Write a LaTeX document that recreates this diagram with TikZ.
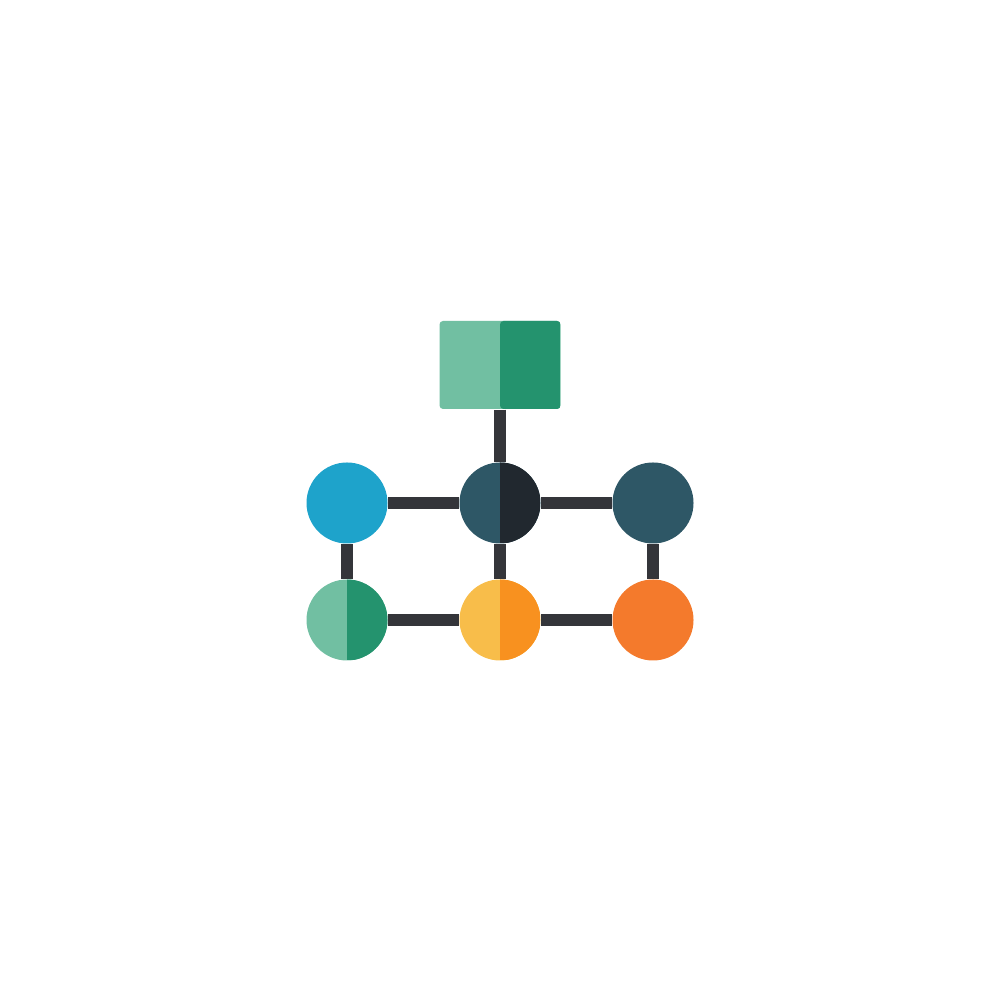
\documentclass[tikz,border=0pt]{standalone}
\usepackage{tikz}

\definecolor{mintlight}{HTML}{71BFA2}
\definecolor{mintdark}{HTML}{24936E}
\definecolor{skyblue}{HTML}{1EA3CB}
\definecolor{slate}{HTML}{2E5766}
\definecolor{slatedark}{HTML}{21282F}
\definecolor{sunyellow}{HTML}{F8BD4A}
\definecolor{sunorange}{HTML}{F8911F}
\definecolor{deeporange}{HTML}{F47A2C}
\definecolor{linkgray}{HTML}{34353A}

\begin{document}
\begin{tikzpicture}[
  dot_node/.style={circle,inner sep=0pt,minimum size=0.81cm,fill=#1},
  half_node/.style 2 args={circle,inner sep=0pt,minimum size=0.81cm,fill=#1,
    path picture={\fill[#2] (path picture bounding box.north) rectangle (path picture bounding box.south east);}},
  box_node/.style 2 args={rectangle,rounded corners=1pt,inner sep=0pt,minimum width=1.21cm,minimum height=0.88cm,fill=#1,
    path picture={\fill[#2] (path picture bounding box.north) rectangle (path picture bounding box.south east);}},
  link/.style={draw=linkgray,line width=0.12cm}]
    \fill[white] (0,0) rectangle (10,10);
    \useasboundingbox (0,0) rectangle (10,10);
	\node[box_node={mintlight}{mintdark}] (0) at (5.00,6.35) {};
	\node[dot_node=skyblue] (1) at (3.47,4.97) {};
    \node[half_node={slate}{slatedark}] (2) at (5.00,4.97) {};
    \node[dot_node=slate] (3) at (6.53,4.97) {};
	\node[half_node={mintlight}{mintdark}] (4) at (3.47,3.80) {};
	\node[half_node={sunyellow}{sunorange}] (5) at (5.00,3.80) {};
	\node[dot_node=deeporange] (6) at (6.53,3.80) {};
    \draw[link] (0) -- (2);
    \draw[link] (1) -- (2) -- (3);
    \draw[link] (4) -- (5) -- (6);
    \draw[link] (1) -- (4);
    \draw[link] (2) -- (5);
    \draw[link] (3) -- (6);
\end{tikzpicture}
\end{document}
